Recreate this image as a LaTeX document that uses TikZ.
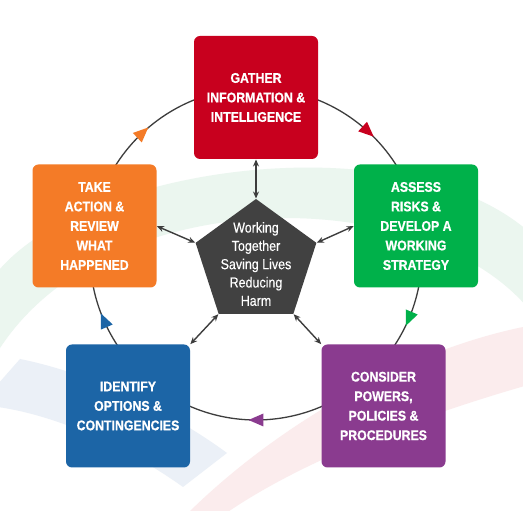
\documentclass[tikz,border=0pt]{standalone}
\usepackage{fontspec}
\newfontfamily\stepfont{Liberation Sans}[FakeStretch=0.88, BoldFeatures={FakeBold=0.8}]
\newfontfamily\hubfont{Liberation Sans}[FakeStretch=0.86, FakeBold=0.3]
\usepackage{xcolor}
\usepackage{tikz}
\usetikzlibrary{arrows.meta,positioning,shapes.geometric,decorations.markings}
\definecolor{gatherred}{HTML}{C8001E}
\definecolor{assessgreen}{HTML}{00B14A}
\definecolor{considerpurple}{HTML}{8A3B8F}
\definecolor{identifyblue}{HTML}{1C65A6}
\definecolor{actionorange}{HTML}{F47B27}
\definecolor{hubgray}{HTML}{414141}
\definecolor{ringgray}{HTML}{3D3D3D}
\definecolor{swoopgreen}{HTML}{EBF6EF}
\definecolor{swoopred}{HTML}{FBECED}
\definecolor{swoopblue}{HTML}{EBF0F7}

\tikzset{
  stepbox/.style={fill=#1, rounded corners=6pt, minimum width=124pt, minimum height=123pt,
    inner sep=0pt, outer sep=0pt, text=white, align=center,
    font=\stepfont\bfseries\fontsize{14}{19.5}\selectfont},
  hubshape/.style={regular polygon, regular polygon sides=5, minimum size=127pt,
    fill=hubgray, inner sep=0pt, outer sep=0pt},
  hubtext/.style={text=white, align=center, inner sep=0pt,
    font=\hubfont\fontsize{14.5}{18.3}\selectfont},
  linkarrow/.style={{Stealth[length=7pt,width=6pt]}-{Stealth[length=7pt,width=6pt]},
    draw=ringgray, line width=1.4pt, shorten <=0.5pt, shorten >=0.5pt},
  ringarc/.style={draw=ringgray, line width=1.3pt, postaction={decorate},
    decoration={markings, mark=at position 0.5 with
      {\fill[#1] (7.5pt,0pt) -- (-7.5pt,6.5pt) -- (-7.5pt,-6.5pt) -- cycle;}}}
}

\begin{document}
\begin{tikzpicture}[x=1pt, y=1pt]
\useasboundingbox (0,0) rectangle (523,511);
\fill[white] (0,0) rectangle (523,511);

% Background swooshes
\begin{scope}
\clip (0,0) rectangle (523,511);
\fill[swoopgreen] (-5,236) .. controls (80,345) and (400,390) .. (528,280)
  -- (528,203) .. controls (420,330) and (100,330) .. (-5,155) -- cycle;
\fill[swoopblue] (-2,127) -- (20,152) .. controls (90,138) and (170,100) .. (227,58)
  -- (183,24) .. controls (130,62) and (60,95) .. (-2,104) -- cycle;
\fill[swoopred] (185,-5) .. controls (270,80) and (400,160) .. (528,185)
  -- (528,126) .. controls (420,95) and (300,50) .. (222,-5) -- cycle;
\end{scope}

% Cycle ring
\coordinate (ring) at (256,257);
\foreach \from/\to/\col in {176/90/actionorange, 90/5/gatherred, 5/-51/assessgreen,
    -51/-129/considerpurple, -129/-184/identifyblue}
  \draw[ringarc=\col] ([shift={(\from:166)}]ring) arc[start angle=\from, end angle=\to, radius=166];

% Steps
\node[stepbox=gatherred] (gather) at (256,413.5) {GATHER\\INFORMATION \&\\INTELLIGENCE};
\node[stepbox=assessgreen] (assess) at (416,285) {ASSESS\\RISKS \&\\DEVELOP A\\WORKING\\STRATEGY};
\node[stepbox=considerpurple] (consider) at (383.5,105) {CONSIDER\\POWERS,\\POLICIES \&\\PROCEDURES};
\node[stepbox=identifyblue] (identify) at (128,105) {IDENTIFY\\OPTIONS \&\\CONTINGENCIES};
\node[stepbox=actionorange] (action) at (94.5,285) {TAKE\\ACTION \&\\REVIEW\\WHAT\\HAPPENED};

% Hub
\node[hubshape] (hub) at (256,248.5) {};
\node[hubtext] (hublabel) at ([yshift=-1.5pt]hub.center) {Working\\Together\\Saving Lives\\Reducing\\Harm};

% Links to hub
\draw[linkarrow] (gather.south) -- (hub.corner 1);
\draw[linkarrow] (action.east) -- (hub.corner 2);
\draw[linkarrow] (hub.corner 5) -- (assess.west);
\draw[linkarrow] (hub.corner 3) -- (identify.north east);
\draw[linkarrow] (hub.corner 4) -- (consider.north west);
\end{tikzpicture}
\end{document}
